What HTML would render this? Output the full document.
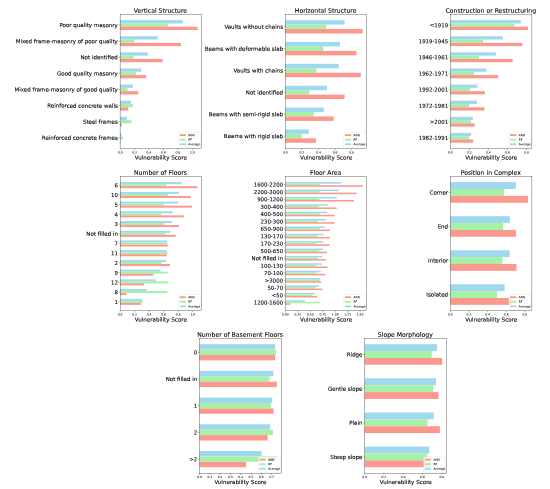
<!DOCTYPE html>
<html><head><meta charset="utf-8"><title>Vulnerability Scores</title>
<style>
html,body{margin:0;padding:0;background:#fff;}
body{width:550px;height:489px;overflow:hidden;}
svg{display:block;font-family:"DejaVu Sans","Liberation Sans",sans-serif;text-rendering:geometricPrecision;}
text{fill:#000;stroke:#000;stroke-width:0.1px;}
text.s{stroke-width:0.04px;}
</style></head><body>
<svg width="550" height="489" viewBox="0 0 550 489">
<rect x="0" y="0" width="550" height="489" fill="#fff"/>
<g>
<rect x="120.1" y="20.15" width="62.6" height="3.29" fill="#9FD8EF"/>
<rect x="120.1" y="23.44" width="47.8" height="3.29" fill="#A6F1A6"/>
<rect x="120.1" y="26.73" width="77.5" height="3.29" fill="#FB998E"/>
<rect x="120.1" y="36.26" width="37.6" height="3.29" fill="#9FD8EF"/>
<rect x="120.1" y="39.55" width="13.9" height="3.29" fill="#A6F1A6"/>
<rect x="120.1" y="42.84" width="60.9" height="3.29" fill="#FB998E"/>
<rect x="120.1" y="52.36" width="27.9" height="3.29" fill="#9FD8EF"/>
<rect x="120.1" y="55.65" width="13.6" height="3.29" fill="#A6F1A6"/>
<rect x="120.1" y="58.94" width="42.6" height="3.29" fill="#FB998E"/>
<rect x="120.1" y="68.47" width="21" height="3.29" fill="#9FD8EF"/>
<rect x="120.1" y="71.76" width="15.8" height="3.29" fill="#A6F1A6"/>
<rect x="120.1" y="75.05" width="26" height="3.29" fill="#FB998E"/>
<rect x="120.1" y="84.58" width="12.8" height="3.29" fill="#9FD8EF"/>
<rect x="120.1" y="87.87" width="7.5" height="3.29" fill="#A6F1A6"/>
<rect x="120.1" y="91.16" width="18.3" height="3.29" fill="#FB998E"/>
<rect x="120.1" y="100.68" width="10.7" height="3.29" fill="#9FD8EF"/>
<rect x="120.1" y="103.98" width="13" height="3.29" fill="#A6F1A6"/>
<rect x="120.1" y="107.27" width="8.2" height="3.29" fill="#FB998E"/>
<rect x="120.1" y="116.79" width="6.8" height="3.29" fill="#9FD8EF"/>
<rect x="120.1" y="120.08" width="11.4" height="3.29" fill="#A6F1A6"/>
<rect x="120.1" y="123.37" width="1.6" height="3.29" fill="#FB998E"/>
<rect x="120.1" y="132.9" width="1.3" height="3.29" fill="#9FD8EF"/>
<rect x="120.1" y="136.19" width="2.6" height="3.29" fill="#A6F1A6"/>
<rect x="120.1" y="139.48" width="0.4" height="3.29" fill="#FB998E"/>
<rect x="178.5" y="132.35" width="22.2" height="15.5" rx="0.8" fill="#fff" fill-opacity="0.8" stroke="#ccc" stroke-opacity="0.8" stroke-width="0.3"/>
<rect x="179.6" y="134.2" width="6.3" height="1.8" fill="#FB998E"/>
<text transform="translate(188.35,136.15) rotate(0.05)" font-size="2.9" class="s">ANN</text>
<rect x="179.6" y="138.8" width="6.3" height="1.8" fill="#A6F1A6"/>
<text transform="translate(188.35,140.75) rotate(0.05)" font-size="2.9" class="s">RF</text>
<rect x="179.6" y="143.4" width="6.3" height="1.8" fill="#9FD8EF"/>
<text transform="translate(188.35,145.35) rotate(0.05)" font-size="2.9" class="s">Average</text>
<rect x="120.1" y="14.45" width="81.4" height="134.2" fill="none" stroke="#000" stroke-width="0.3"/>
<line x1="118.6" y1="25.09" x2="120.1" y2="25.09" stroke="#000" stroke-width="0.3"/>
<text transform="translate(117.8,27.14) rotate(0.05)" font-size="5.5" text-anchor="end">Poor quality masonry</text>
<line x1="118.6" y1="41.19" x2="120.1" y2="41.19" stroke="#000" stroke-width="0.3"/>
<text transform="translate(117.8,43.24) rotate(0.05)" font-size="5.5" text-anchor="end">Mixed frame-masonry of poor quality</text>
<line x1="118.6" y1="57.3" x2="120.1" y2="57.3" stroke="#000" stroke-width="0.3"/>
<text transform="translate(117.8,59.35) rotate(0.05)" font-size="5.5" text-anchor="end">Not identified</text>
<line x1="118.6" y1="73.41" x2="120.1" y2="73.41" stroke="#000" stroke-width="0.3"/>
<text transform="translate(117.8,75.46) rotate(0.05)" font-size="5.5" text-anchor="end">Good quality masonry</text>
<line x1="118.6" y1="89.51" x2="120.1" y2="89.51" stroke="#000" stroke-width="0.3"/>
<text transform="translate(117.8,91.56) rotate(0.05)" font-size="5.5" text-anchor="end">Mixed frame-masonry of good quality</text>
<line x1="118.6" y1="105.62" x2="120.1" y2="105.62" stroke="#000" stroke-width="0.3"/>
<text transform="translate(117.8,107.67) rotate(0.05)" font-size="5.5" text-anchor="end">Reinforced concrete walls</text>
<line x1="118.6" y1="121.73" x2="120.1" y2="121.73" stroke="#000" stroke-width="0.3"/>
<text transform="translate(117.8,123.78) rotate(0.05)" font-size="5.5" text-anchor="end">Steel frames</text>
<line x1="118.6" y1="137.83" x2="120.1" y2="137.83" stroke="#000" stroke-width="0.3"/>
<text transform="translate(117.8,139.88) rotate(0.05)" font-size="5.5" text-anchor="end">Reinforced concrete frames</text>
<line x1="120.2" y1="148.65" x2="120.2" y2="150.35" stroke="#000" stroke-width="0.3"/>
<text transform="translate(120.2,153.5) rotate(0.05)" font-size="3.0" text-anchor="middle" class="s">0.0</text>
<line x1="134.6" y1="148.65" x2="134.6" y2="150.35" stroke="#000" stroke-width="0.3"/>
<text transform="translate(134.6,153.5) rotate(0.05)" font-size="3.0" text-anchor="middle" class="s">0.2</text>
<line x1="149" y1="148.65" x2="149" y2="150.35" stroke="#000" stroke-width="0.3"/>
<text transform="translate(149,153.5) rotate(0.05)" font-size="3.0" text-anchor="middle" class="s">0.4</text>
<line x1="163.5" y1="148.65" x2="163.5" y2="150.35" stroke="#000" stroke-width="0.3"/>
<text transform="translate(163.5,153.5) rotate(0.05)" font-size="3.0" text-anchor="middle" class="s">0.6</text>
<line x1="177.9" y1="148.65" x2="177.9" y2="150.35" stroke="#000" stroke-width="0.3"/>
<text transform="translate(177.9,153.5) rotate(0.05)" font-size="3.0" text-anchor="middle" class="s">0.8</text>
<line x1="192.4" y1="148.65" x2="192.4" y2="150.35" stroke="#000" stroke-width="0.3"/>
<text transform="translate(192.4,153.5) rotate(0.05)" font-size="3.0" text-anchor="middle" class="s">1.0</text>
<text transform="translate(160.8,159.45) rotate(0.05)" font-size="5.55" text-anchor="middle">Vulnerability Score</text>
<text transform="translate(160.4,12.8) rotate(0.05)" font-size="6.13" text-anchor="middle">Vertical Structure</text>
</g>
<g>
<rect x="285.4" y="20.15" width="59.2" height="4.44" fill="#9FD8EF"/>
<rect x="285.4" y="24.59" width="40.9" height="4.44" fill="#A6F1A6"/>
<rect x="285.4" y="29.02" width="77.3" height="4.44" fill="#FB998E"/>
<rect x="285.4" y="42.01" width="54.5" height="4.44" fill="#9FD8EF"/>
<rect x="285.4" y="46.45" width="37.8" height="4.44" fill="#A6F1A6"/>
<rect x="285.4" y="50.89" width="71.1" height="4.44" fill="#FB998E"/>
<rect x="285.4" y="63.87" width="53.3" height="4.44" fill="#9FD8EF"/>
<rect x="285.4" y="68.31" width="31" height="4.44" fill="#A6F1A6"/>
<rect x="285.4" y="72.75" width="75.4" height="4.44" fill="#FB998E"/>
<rect x="285.4" y="85.74" width="41.7" height="4.44" fill="#9FD8EF"/>
<rect x="285.4" y="90.17" width="23.8" height="4.44" fill="#A6F1A6"/>
<rect x="285.4" y="94.61" width="59.2" height="4.44" fill="#FB998E"/>
<rect x="285.4" y="107.6" width="38.4" height="4.44" fill="#9FD8EF"/>
<rect x="285.4" y="112.03" width="28.5" height="4.44" fill="#A6F1A6"/>
<rect x="285.4" y="116.47" width="48.3" height="4.44" fill="#FB998E"/>
<rect x="285.4" y="129.46" width="23.4" height="4.44" fill="#9FD8EF"/>
<rect x="285.4" y="133.9" width="16.3" height="4.44" fill="#A6F1A6"/>
<rect x="285.4" y="138.33" width="30.6" height="4.44" fill="#FB998E"/>
<rect x="343.7" y="132.35" width="22.2" height="15.5" rx="0.8" fill="#fff" fill-opacity="0.8" stroke="#ccc" stroke-opacity="0.8" stroke-width="0.3"/>
<rect x="344.8" y="134.2" width="6.3" height="1.8" fill="#FB998E"/>
<text transform="translate(353.55,136.15) rotate(0.05)" font-size="2.9" class="s">ANN</text>
<rect x="344.8" y="138.8" width="6.3" height="1.8" fill="#A6F1A6"/>
<text transform="translate(353.55,140.75) rotate(0.05)" font-size="2.9" class="s">RF</text>
<rect x="344.8" y="143.4" width="6.3" height="1.8" fill="#9FD8EF"/>
<text transform="translate(353.55,145.35) rotate(0.05)" font-size="2.9" class="s">Average</text>
<rect x="285.4" y="14.45" width="81.3" height="134.2" fill="none" stroke="#000" stroke-width="0.3"/>
<line x1="283.9" y1="26.81" x2="285.4" y2="26.81" stroke="#000" stroke-width="0.3"/>
<text transform="translate(283.1,28.86) rotate(0.05)" font-size="5.5" text-anchor="end">Vaults without chains</text>
<line x1="283.9" y1="48.67" x2="285.4" y2="48.67" stroke="#000" stroke-width="0.3"/>
<text transform="translate(283.1,50.72) rotate(0.05)" font-size="5.5" text-anchor="end">Beams with deformable slab</text>
<line x1="283.9" y1="70.53" x2="285.4" y2="70.53" stroke="#000" stroke-width="0.3"/>
<text transform="translate(283.1,72.58) rotate(0.05)" font-size="5.5" text-anchor="end">Vaults with chains</text>
<line x1="283.9" y1="92.39" x2="285.4" y2="92.39" stroke="#000" stroke-width="0.3"/>
<text transform="translate(283.1,94.44) rotate(0.05)" font-size="5.5" text-anchor="end">Not identified</text>
<line x1="283.9" y1="114.25" x2="285.4" y2="114.25" stroke="#000" stroke-width="0.3"/>
<text transform="translate(283.1,116.3) rotate(0.05)" font-size="5.5" text-anchor="end">Beams with semi-rigid slab</text>
<line x1="283.9" y1="136.11" x2="285.4" y2="136.11" stroke="#000" stroke-width="0.3"/>
<text transform="translate(283.1,138.16) rotate(0.05)" font-size="5.5" text-anchor="end">Beams with rigid slab</text>
<line x1="285.4" y1="148.65" x2="285.4" y2="150.35" stroke="#000" stroke-width="0.3"/>
<text transform="translate(285.4,153.5) rotate(0.05)" font-size="3.0" text-anchor="middle" class="s">0.0</text>
<line x1="301.9" y1="148.65" x2="301.9" y2="150.35" stroke="#000" stroke-width="0.3"/>
<text transform="translate(301.9,153.5) rotate(0.05)" font-size="3.0" text-anchor="middle" class="s">0.2</text>
<line x1="318.5" y1="148.65" x2="318.5" y2="150.35" stroke="#000" stroke-width="0.3"/>
<text transform="translate(318.5,153.5) rotate(0.05)" font-size="3.0" text-anchor="middle" class="s">0.4</text>
<line x1="335.1" y1="148.65" x2="335.1" y2="150.35" stroke="#000" stroke-width="0.3"/>
<text transform="translate(335.1,153.5) rotate(0.05)" font-size="3.0" text-anchor="middle" class="s">0.6</text>
<line x1="351.7" y1="148.65" x2="351.7" y2="150.35" stroke="#000" stroke-width="0.3"/>
<text transform="translate(351.7,153.5) rotate(0.05)" font-size="3.0" text-anchor="middle" class="s">0.8</text>
<text transform="translate(326.05,159.45) rotate(0.05)" font-size="5.55" text-anchor="middle">Vulnerability Score</text>
<text transform="translate(325.65,12.8) rotate(0.05)" font-size="6.13" text-anchor="middle">Horizontal Structure</text>
</g>
<g>
<rect x="450.4" y="20.15" width="70.5" height="3.29" fill="#9FD8EF"/>
<rect x="450.4" y="23.44" width="64.1" height="3.29" fill="#A6F1A6"/>
<rect x="450.4" y="26.73" width="77.6" height="3.29" fill="#FB998E"/>
<rect x="450.4" y="36.26" width="52.5" height="3.29" fill="#9FD8EF"/>
<rect x="450.4" y="39.55" width="32.7" height="3.29" fill="#A6F1A6"/>
<rect x="450.4" y="42.84" width="72" height="3.29" fill="#FB998E"/>
<rect x="450.4" y="52.36" width="45.4" height="3.29" fill="#9FD8EF"/>
<rect x="450.4" y="55.65" width="28.5" height="3.29" fill="#A6F1A6"/>
<rect x="450.4" y="58.94" width="62.3" height="3.29" fill="#FB998E"/>
<rect x="450.4" y="68.47" width="36" height="3.29" fill="#9FD8EF"/>
<rect x="450.4" y="71.76" width="23.6" height="3.29" fill="#A6F1A6"/>
<rect x="450.4" y="75.05" width="47.8" height="3.29" fill="#FB998E"/>
<rect x="450.4" y="84.58" width="27.2" height="3.29" fill="#9FD8EF"/>
<rect x="450.4" y="87.87" width="19.6" height="3.29" fill="#A6F1A6"/>
<rect x="450.4" y="91.16" width="34.5" height="3.29" fill="#FB998E"/>
<rect x="450.4" y="100.68" width="26.5" height="3.29" fill="#9FD8EF"/>
<rect x="450.4" y="103.98" width="18.7" height="3.29" fill="#A6F1A6"/>
<rect x="450.4" y="107.27" width="34.1" height="3.29" fill="#FB998E"/>
<rect x="450.4" y="116.79" width="22.5" height="3.29" fill="#9FD8EF"/>
<rect x="450.4" y="120.08" width="20.5" height="3.29" fill="#A6F1A6"/>
<rect x="450.4" y="123.37" width="24.3" height="3.29" fill="#FB998E"/>
<rect x="450.4" y="132.9" width="20.7" height="3.29" fill="#9FD8EF"/>
<rect x="450.4" y="136.19" width="18.7" height="3.29" fill="#A6F1A6"/>
<rect x="450.4" y="139.48" width="22.7" height="3.29" fill="#FB998E"/>
<rect x="508.9" y="132.35" width="22.2" height="15.5" rx="0.8" fill="#fff" fill-opacity="0.8" stroke="#ccc" stroke-opacity="0.8" stroke-width="0.3"/>
<rect x="510" y="134.2" width="6.3" height="1.8" fill="#FB998E"/>
<text transform="translate(518.75,136.15) rotate(0.05)" font-size="2.9" class="s">ANN</text>
<rect x="510" y="138.8" width="6.3" height="1.8" fill="#A6F1A6"/>
<text transform="translate(518.75,140.75) rotate(0.05)" font-size="2.9" class="s">RF</text>
<rect x="510" y="143.4" width="6.3" height="1.8" fill="#9FD8EF"/>
<text transform="translate(518.75,145.35) rotate(0.05)" font-size="2.9" class="s">Average</text>
<rect x="450.4" y="14.45" width="81.5" height="134.2" fill="none" stroke="#000" stroke-width="0.3"/>
<line x1="448.9" y1="25.09" x2="450.4" y2="25.09" stroke="#000" stroke-width="0.3"/>
<text transform="translate(448.1,27.14) rotate(0.05)" font-size="5.4" text-anchor="end">&lt;1919</text>
<line x1="448.9" y1="41.19" x2="450.4" y2="41.19" stroke="#000" stroke-width="0.3"/>
<text transform="translate(448.1,43.24) rotate(0.05)" font-size="5.4" text-anchor="end">1919-1945</text>
<line x1="448.9" y1="57.3" x2="450.4" y2="57.3" stroke="#000" stroke-width="0.3"/>
<text transform="translate(448.1,59.35) rotate(0.05)" font-size="5.4" text-anchor="end">1946-1961</text>
<line x1="448.9" y1="73.41" x2="450.4" y2="73.41" stroke="#000" stroke-width="0.3"/>
<text transform="translate(448.1,75.46) rotate(0.05)" font-size="5.4" text-anchor="end">1962-1971</text>
<line x1="448.9" y1="89.51" x2="450.4" y2="89.51" stroke="#000" stroke-width="0.3"/>
<text transform="translate(448.1,91.56) rotate(0.05)" font-size="5.4" text-anchor="end">1992-2001</text>
<line x1="448.9" y1="105.62" x2="450.4" y2="105.62" stroke="#000" stroke-width="0.3"/>
<text transform="translate(448.1,107.67) rotate(0.05)" font-size="5.4" text-anchor="end">1972-1981</text>
<line x1="448.9" y1="121.73" x2="450.4" y2="121.73" stroke="#000" stroke-width="0.3"/>
<text transform="translate(448.1,123.78) rotate(0.05)" font-size="5.4" text-anchor="end">&gt;2001</text>
<line x1="448.9" y1="137.83" x2="450.4" y2="137.83" stroke="#000" stroke-width="0.3"/>
<text transform="translate(448.1,139.88) rotate(0.05)" font-size="5.4" text-anchor="end">1982-1991</text>
<line x1="450.4" y1="148.65" x2="450.4" y2="150.35" stroke="#000" stroke-width="0.3"/>
<text transform="translate(450.4,153.5) rotate(0.05)" font-size="3.0" text-anchor="middle" class="s">0.0</text>
<line x1="469.4" y1="148.65" x2="469.4" y2="150.35" stroke="#000" stroke-width="0.3"/>
<text transform="translate(469.4,153.5) rotate(0.05)" font-size="3.0" text-anchor="middle" class="s">0.2</text>
<line x1="488.4" y1="148.65" x2="488.4" y2="150.35" stroke="#000" stroke-width="0.3"/>
<text transform="translate(488.4,153.5) rotate(0.05)" font-size="3.0" text-anchor="middle" class="s">0.4</text>
<line x1="507.5" y1="148.65" x2="507.5" y2="150.35" stroke="#000" stroke-width="0.3"/>
<text transform="translate(507.5,153.5) rotate(0.05)" font-size="3.0" text-anchor="middle" class="s">0.6</text>
<line x1="526.5" y1="148.65" x2="526.5" y2="150.35" stroke="#000" stroke-width="0.3"/>
<text transform="translate(526.5,153.5) rotate(0.05)" font-size="3.0" text-anchor="middle" class="s">0.8</text>
<text transform="translate(491.15,159.45) rotate(0.05)" font-size="5.55" text-anchor="middle">Vulnerability Score</text>
<text transform="translate(490.75,12.8) rotate(0.05)" font-size="6.13" text-anchor="middle">Construction or Restructuring</text>
</g>
<g>
<rect x="120.2" y="182.15" width="61.6" height="2.02" fill="#9FD8EF"/>
<rect x="120.2" y="184.17" width="45.8" height="2.02" fill="#A6F1A6"/>
<rect x="120.2" y="186.19" width="77.4" height="2.02" fill="#FB998E"/>
<rect x="120.2" y="191.88" width="58.9" height="2.02" fill="#9FD8EF"/>
<rect x="120.2" y="193.89" width="47.6" height="2.02" fill="#A6F1A6"/>
<rect x="120.2" y="195.91" width="70.7" height="2.02" fill="#FB998E"/>
<rect x="120.2" y="201.6" width="57.8" height="2.02" fill="#9FD8EF"/>
<rect x="120.2" y="203.62" width="43.8" height="2.02" fill="#A6F1A6"/>
<rect x="120.2" y="205.63" width="71.6" height="2.02" fill="#FB998E"/>
<rect x="120.2" y="211.32" width="52.3" height="2.02" fill="#9FD8EF"/>
<rect x="120.2" y="213.34" width="41.1" height="2.02" fill="#A6F1A6"/>
<rect x="120.2" y="215.35" width="63.6" height="2.02" fill="#FB998E"/>
<rect x="120.2" y="221.04" width="51.6" height="2.02" fill="#9FD8EF"/>
<rect x="120.2" y="223.06" width="44.3" height="2.02" fill="#A6F1A6"/>
<rect x="120.2" y="225.08" width="58.9" height="2.02" fill="#FB998E"/>
<rect x="120.2" y="230.76" width="50.3" height="2.02" fill="#9FD8EF"/>
<rect x="120.2" y="232.78" width="45.4" height="2.02" fill="#A6F1A6"/>
<rect x="120.2" y="234.8" width="55.4" height="2.02" fill="#FB998E"/>
<rect x="120.2" y="240.48" width="47.3" height="2.02" fill="#9FD8EF"/>
<rect x="120.2" y="242.5" width="46.9" height="2.02" fill="#A6F1A6"/>
<rect x="120.2" y="244.52" width="47.8" height="2.02" fill="#FB998E"/>
<rect x="120.2" y="250.2" width="46.5" height="2.02" fill="#9FD8EF"/>
<rect x="120.2" y="252.22" width="47.4" height="2.02" fill="#A6F1A6"/>
<rect x="120.2" y="254.24" width="46.5" height="2.02" fill="#FB998E"/>
<rect x="120.2" y="259.93" width="45.8" height="2.02" fill="#9FD8EF"/>
<rect x="120.2" y="261.94" width="41.4" height="2.02" fill="#A6F1A6"/>
<rect x="120.2" y="263.96" width="49.8" height="2.02" fill="#FB998E"/>
<rect x="120.2" y="269.65" width="40.3" height="2.02" fill="#9FD8EF"/>
<rect x="120.2" y="271.67" width="47.4" height="2.02" fill="#A6F1A6"/>
<rect x="120.2" y="273.68" width="33.1" height="2.02" fill="#FB998E"/>
<rect x="120.2" y="279.37" width="35.6" height="2.02" fill="#9FD8EF"/>
<rect x="120.2" y="281.39" width="47.6" height="2.02" fill="#A6F1A6"/>
<rect x="120.2" y="283.4" width="23.8" height="2.02" fill="#FB998E"/>
<rect x="120.2" y="289.09" width="26.5" height="2.02" fill="#9FD8EF"/>
<rect x="120.2" y="291.11" width="47.1" height="2.02" fill="#A6F1A6"/>
<rect x="120.2" y="293.13" width="6.5" height="2.02" fill="#FB998E"/>
<rect x="120.2" y="298.81" width="21.8" height="2.02" fill="#9FD8EF"/>
<rect x="120.2" y="300.83" width="22.7" height="2.02" fill="#A6F1A6"/>
<rect x="120.2" y="302.85" width="20.9" height="2.02" fill="#FB998E"/>
<rect x="178.5" y="294.45" width="22.2" height="15.5" rx="0.8" fill="#fff" fill-opacity="0.8" stroke="#ccc" stroke-opacity="0.8" stroke-width="0.3"/>
<rect x="179.6" y="296.3" width="6.3" height="1.8" fill="#FB998E"/>
<text transform="translate(188.35,298.25) rotate(0.05)" font-size="2.9" class="s">ANN</text>
<rect x="179.6" y="300.9" width="6.3" height="1.8" fill="#A6F1A6"/>
<text transform="translate(188.35,302.85) rotate(0.05)" font-size="2.9" class="s">RF</text>
<rect x="179.6" y="305.5" width="6.3" height="1.8" fill="#9FD8EF"/>
<text transform="translate(188.35,307.45) rotate(0.05)" font-size="2.9" class="s">Average</text>
<rect x="120.2" y="176.45" width="81.3" height="134.3" fill="none" stroke="#000" stroke-width="0.3"/>
<line x1="118.7" y1="185.18" x2="120.2" y2="185.18" stroke="#000" stroke-width="0.3"/>
<text transform="translate(117.9,187.23) rotate(0.05)" font-size="5.4" text-anchor="end">6</text>
<line x1="118.7" y1="194.9" x2="120.2" y2="194.9" stroke="#000" stroke-width="0.3"/>
<text transform="translate(117.9,196.95) rotate(0.05)" font-size="5.4" text-anchor="end">10</text>
<line x1="118.7" y1="204.62" x2="120.2" y2="204.62" stroke="#000" stroke-width="0.3"/>
<text transform="translate(117.9,206.67) rotate(0.05)" font-size="5.4" text-anchor="end">5</text>
<line x1="118.7" y1="214.35" x2="120.2" y2="214.35" stroke="#000" stroke-width="0.3"/>
<text transform="translate(117.9,216.4) rotate(0.05)" font-size="5.4" text-anchor="end">4</text>
<line x1="118.7" y1="224.07" x2="120.2" y2="224.07" stroke="#000" stroke-width="0.3"/>
<text transform="translate(117.9,226.12) rotate(0.05)" font-size="5.4" text-anchor="end">3</text>
<line x1="118.7" y1="233.79" x2="120.2" y2="233.79" stroke="#000" stroke-width="0.3"/>
<text transform="translate(117.9,235.84) rotate(0.05)" font-size="5.5" text-anchor="end">Not filled in</text>
<line x1="118.7" y1="243.51" x2="120.2" y2="243.51" stroke="#000" stroke-width="0.3"/>
<text transform="translate(117.9,245.56) rotate(0.05)" font-size="5.4" text-anchor="end">7</text>
<line x1="118.7" y1="253.23" x2="120.2" y2="253.23" stroke="#000" stroke-width="0.3"/>
<text transform="translate(117.9,255.28) rotate(0.05)" font-size="5.4" text-anchor="end">11</text>
<line x1="118.7" y1="262.95" x2="120.2" y2="262.95" stroke="#000" stroke-width="0.3"/>
<text transform="translate(117.9,265) rotate(0.05)" font-size="5.4" text-anchor="end">2</text>
<line x1="118.7" y1="272.67" x2="120.2" y2="272.67" stroke="#000" stroke-width="0.3"/>
<text transform="translate(117.9,274.72) rotate(0.05)" font-size="5.4" text-anchor="end">9</text>
<line x1="118.7" y1="282.4" x2="120.2" y2="282.4" stroke="#000" stroke-width="0.3"/>
<text transform="translate(117.9,284.45) rotate(0.05)" font-size="5.4" text-anchor="end">12</text>
<line x1="118.7" y1="292.12" x2="120.2" y2="292.12" stroke="#000" stroke-width="0.3"/>
<text transform="translate(117.9,294.17) rotate(0.05)" font-size="5.4" text-anchor="end">8</text>
<line x1="118.7" y1="301.84" x2="120.2" y2="301.84" stroke="#000" stroke-width="0.3"/>
<text transform="translate(117.9,303.89) rotate(0.05)" font-size="5.4" text-anchor="end">1</text>
<line x1="120.1" y1="310.75" x2="120.1" y2="312.45" stroke="#000" stroke-width="0.3"/>
<text transform="translate(120.1,315.6) rotate(0.05)" font-size="3.0" text-anchor="middle" class="s">0.0</text>
<line x1="134.6" y1="310.75" x2="134.6" y2="312.45" stroke="#000" stroke-width="0.3"/>
<text transform="translate(134.6,315.6) rotate(0.05)" font-size="3.0" text-anchor="middle" class="s">0.2</text>
<line x1="149.1" y1="310.75" x2="149.1" y2="312.45" stroke="#000" stroke-width="0.3"/>
<text transform="translate(149.1,315.6) rotate(0.05)" font-size="3.0" text-anchor="middle" class="s">0.4</text>
<line x1="163.6" y1="310.75" x2="163.6" y2="312.45" stroke="#000" stroke-width="0.3"/>
<text transform="translate(163.6,315.6) rotate(0.05)" font-size="3.0" text-anchor="middle" class="s">0.6</text>
<line x1="178.2" y1="310.75" x2="178.2" y2="312.45" stroke="#000" stroke-width="0.3"/>
<text transform="translate(178.2,315.6) rotate(0.05)" font-size="3.0" text-anchor="middle" class="s">0.8</text>
<line x1="192.8" y1="310.75" x2="192.8" y2="312.45" stroke="#000" stroke-width="0.3"/>
<text transform="translate(192.8,315.6) rotate(0.05)" font-size="3.0" text-anchor="middle" class="s">1.0</text>
<text transform="translate(160.85,321.55) rotate(0.05)" font-size="5.55" text-anchor="middle">Vulnerability Score</text>
<text transform="translate(160.45,174.8) rotate(0.05)" font-size="6.13" text-anchor="middle">Number of Floors</text>
</g>
<g>
<rect x="285.4" y="182.15" width="56" height="1.55" fill="#9FD8EF"/>
<rect x="285.4" y="183.71" width="34.4" height="1.55" fill="#A6F1A6"/>
<rect x="285.4" y="185.26" width="77.6" height="1.55" fill="#FB998E"/>
<rect x="285.4" y="189.53" width="53.2" height="1.55" fill="#9FD8EF"/>
<rect x="285.4" y="191.08" width="34.4" height="1.55" fill="#A6F1A6"/>
<rect x="285.4" y="192.64" width="71.4" height="1.55" fill="#FB998E"/>
<rect x="285.4" y="196.91" width="51.3" height="1.55" fill="#9FD8EF"/>
<rect x="285.4" y="198.46" width="34" height="1.55" fill="#A6F1A6"/>
<rect x="285.4" y="200.01" width="68.5" height="1.55" fill="#FB998E"/>
<rect x="285.4" y="204.29" width="42.3" height="1.55" fill="#9FD8EF"/>
<rect x="285.4" y="205.84" width="33.1" height="1.55" fill="#A6F1A6"/>
<rect x="285.4" y="207.39" width="51.3" height="1.55" fill="#FB998E"/>
<rect x="285.4" y="211.67" width="41.8" height="1.55" fill="#9FD8EF"/>
<rect x="285.4" y="213.22" width="34" height="1.55" fill="#A6F1A6"/>
<rect x="285.4" y="214.77" width="49.4" height="1.55" fill="#FB998E"/>
<rect x="285.4" y="219.05" width="40.5" height="1.55" fill="#9FD8EF"/>
<rect x="285.4" y="220.6" width="32.1" height="1.55" fill="#A6F1A6"/>
<rect x="285.4" y="222.15" width="48.9" height="1.55" fill="#FB998E"/>
<rect x="285.4" y="226.43" width="39.4" height="1.55" fill="#9FD8EF"/>
<rect x="285.4" y="227.98" width="34.1" height="1.55" fill="#A6F1A6"/>
<rect x="285.4" y="229.53" width="44.5" height="1.55" fill="#FB998E"/>
<rect x="285.4" y="233.8" width="38.1" height="1.55" fill="#9FD8EF"/>
<rect x="285.4" y="235.36" width="31.8" height="1.55" fill="#A6F1A6"/>
<rect x="285.4" y="236.91" width="44.5" height="1.55" fill="#FB998E"/>
<rect x="285.4" y="241.18" width="37.8" height="1.55" fill="#9FD8EF"/>
<rect x="285.4" y="242.73" width="31.2" height="1.55" fill="#A6F1A6"/>
<rect x="285.4" y="244.29" width="44.1" height="1.55" fill="#FB998E"/>
<rect x="285.4" y="248.56" width="37.6" height="1.55" fill="#9FD8EF"/>
<rect x="285.4" y="250.11" width="33.6" height="1.55" fill="#A6F1A6"/>
<rect x="285.4" y="251.66" width="41.6" height="1.55" fill="#FB998E"/>
<rect x="285.4" y="255.94" width="36.7" height="1.55" fill="#9FD8EF"/>
<rect x="285.4" y="257.49" width="32.5" height="1.55" fill="#A6F1A6"/>
<rect x="285.4" y="259.04" width="40.7" height="1.55" fill="#FB998E"/>
<rect x="285.4" y="263.32" width="36.5" height="1.55" fill="#9FD8EF"/>
<rect x="285.4" y="264.87" width="30.9" height="1.55" fill="#A6F1A6"/>
<rect x="285.4" y="266.42" width="42" height="1.55" fill="#FB998E"/>
<rect x="285.4" y="270.7" width="35.4" height="1.55" fill="#9FD8EF"/>
<rect x="285.4" y="272.25" width="30.9" height="1.55" fill="#A6F1A6"/>
<rect x="285.4" y="273.8" width="40" height="1.55" fill="#FB998E"/>
<rect x="285.4" y="278.08" width="34.9" height="1.55" fill="#9FD8EF"/>
<rect x="285.4" y="279.63" width="34.3" height="1.55" fill="#A6F1A6"/>
<rect x="285.4" y="281.18" width="35.8" height="1.55" fill="#FB998E"/>
<rect x="285.4" y="285.46" width="33.6" height="1.55" fill="#9FD8EF"/>
<rect x="285.4" y="287.01" width="30.3" height="1.55" fill="#A6F1A6"/>
<rect x="285.4" y="288.56" width="37.2" height="1.55" fill="#FB998E"/>
<rect x="285.4" y="292.83" width="29.4" height="1.55" fill="#9FD8EF"/>
<rect x="285.4" y="294.38" width="27.2" height="1.55" fill="#A6F1A6"/>
<rect x="285.4" y="295.94" width="31.6" height="1.55" fill="#FB998E"/>
<rect x="285.4" y="300.21" width="19.6" height="1.55" fill="#9FD8EF"/>
<rect x="285.4" y="301.76" width="34.5" height="1.55" fill="#A6F1A6"/>
<rect x="285.4" y="303.31" width="4.9" height="1.55" fill="#FB998E"/>
<rect x="343.7" y="294.45" width="22.2" height="15.5" rx="0.8" fill="#fff" fill-opacity="0.8" stroke="#ccc" stroke-opacity="0.8" stroke-width="0.3"/>
<rect x="344.8" y="296.3" width="6.3" height="1.8" fill="#FB998E"/>
<text transform="translate(353.55,298.25) rotate(0.05)" font-size="2.9" class="s">ANN</text>
<rect x="344.8" y="300.9" width="6.3" height="1.8" fill="#A6F1A6"/>
<text transform="translate(353.55,302.85) rotate(0.05)" font-size="2.9" class="s">RF</text>
<rect x="344.8" y="305.5" width="6.3" height="1.8" fill="#9FD8EF"/>
<text transform="translate(353.55,307.45) rotate(0.05)" font-size="2.9" class="s">Average</text>
<rect x="285.4" y="176.45" width="81.3" height="134.3" fill="none" stroke="#000" stroke-width="0.3"/>
<line x1="283.9" y1="184.48" x2="285.4" y2="184.48" stroke="#000" stroke-width="0.3"/>
<text transform="translate(283.1,186.53) rotate(0.05)" font-size="5.4" text-anchor="end">1600-2200</text>
<line x1="283.9" y1="191.86" x2="285.4" y2="191.86" stroke="#000" stroke-width="0.3"/>
<text transform="translate(283.1,193.91) rotate(0.05)" font-size="5.4" text-anchor="end">2200-3000</text>
<line x1="283.9" y1="199.24" x2="285.4" y2="199.24" stroke="#000" stroke-width="0.3"/>
<text transform="translate(283.1,201.29) rotate(0.05)" font-size="5.4" text-anchor="end">900-1200</text>
<line x1="283.9" y1="206.62" x2="285.4" y2="206.62" stroke="#000" stroke-width="0.3"/>
<text transform="translate(283.1,208.67) rotate(0.05)" font-size="5.4" text-anchor="end">300-400</text>
<line x1="283.9" y1="214" x2="285.4" y2="214" stroke="#000" stroke-width="0.3"/>
<text transform="translate(283.1,216.05) rotate(0.05)" font-size="5.4" text-anchor="end">400-500</text>
<line x1="283.9" y1="221.37" x2="285.4" y2="221.37" stroke="#000" stroke-width="0.3"/>
<text transform="translate(283.1,223.42) rotate(0.05)" font-size="5.4" text-anchor="end">230-300</text>
<line x1="283.9" y1="228.75" x2="285.4" y2="228.75" stroke="#000" stroke-width="0.3"/>
<text transform="translate(283.1,230.8) rotate(0.05)" font-size="5.4" text-anchor="end">650-900</text>
<line x1="283.9" y1="236.13" x2="285.4" y2="236.13" stroke="#000" stroke-width="0.3"/>
<text transform="translate(283.1,238.18) rotate(0.05)" font-size="5.4" text-anchor="end">130-170</text>
<line x1="283.9" y1="243.51" x2="285.4" y2="243.51" stroke="#000" stroke-width="0.3"/>
<text transform="translate(283.1,245.56) rotate(0.05)" font-size="5.4" text-anchor="end">170-230</text>
<line x1="283.9" y1="250.89" x2="285.4" y2="250.89" stroke="#000" stroke-width="0.3"/>
<text transform="translate(283.1,252.94) rotate(0.05)" font-size="5.4" text-anchor="end">500-650</text>
<line x1="283.9" y1="258.27" x2="285.4" y2="258.27" stroke="#000" stroke-width="0.3"/>
<text transform="translate(283.1,260.32) rotate(0.05)" font-size="5.5" text-anchor="end">Not filled in</text>
<line x1="283.9" y1="265.65" x2="285.4" y2="265.65" stroke="#000" stroke-width="0.3"/>
<text transform="translate(283.1,267.7) rotate(0.05)" font-size="5.4" text-anchor="end">100-130</text>
<line x1="283.9" y1="273.02" x2="285.4" y2="273.02" stroke="#000" stroke-width="0.3"/>
<text transform="translate(283.1,275.07) rotate(0.05)" font-size="5.4" text-anchor="end">70-100</text>
<line x1="283.9" y1="280.4" x2="285.4" y2="280.4" stroke="#000" stroke-width="0.3"/>
<text transform="translate(283.1,282.45) rotate(0.05)" font-size="5.4" text-anchor="end">&gt;3000</text>
<line x1="283.9" y1="287.78" x2="285.4" y2="287.78" stroke="#000" stroke-width="0.3"/>
<text transform="translate(283.1,289.83) rotate(0.05)" font-size="5.4" text-anchor="end">50-70</text>
<line x1="283.9" y1="295.16" x2="285.4" y2="295.16" stroke="#000" stroke-width="0.3"/>
<text transform="translate(283.1,297.21) rotate(0.05)" font-size="5.4" text-anchor="end">&lt;50</text>
<line x1="283.9" y1="302.54" x2="285.4" y2="302.54" stroke="#000" stroke-width="0.3"/>
<text transform="translate(283.1,304.59) rotate(0.05)" font-size="5.4" text-anchor="end">1200-1600</text>
<line x1="285.4" y1="310.75" x2="285.4" y2="312.45" stroke="#000" stroke-width="0.3"/>
<text transform="translate(285.4,315.6) rotate(0.05)" font-size="3.0" text-anchor="middle" class="s">0.00</text>
<line x1="297.9" y1="310.75" x2="297.9" y2="312.45" stroke="#000" stroke-width="0.3"/>
<text transform="translate(297.9,315.6) rotate(0.05)" font-size="3.0" text-anchor="middle" class="s">0.25</text>
<line x1="310.3" y1="310.75" x2="310.3" y2="312.45" stroke="#000" stroke-width="0.3"/>
<text transform="translate(310.3,315.6) rotate(0.05)" font-size="3.0" text-anchor="middle" class="s">0.50</text>
<line x1="322.8" y1="310.75" x2="322.8" y2="312.45" stroke="#000" stroke-width="0.3"/>
<text transform="translate(322.8,315.6) rotate(0.05)" font-size="3.0" text-anchor="middle" class="s">0.75</text>
<line x1="335.2" y1="310.75" x2="335.2" y2="312.45" stroke="#000" stroke-width="0.3"/>
<text transform="translate(335.2,315.6) rotate(0.05)" font-size="3.0" text-anchor="middle" class="s">1.00</text>
<line x1="347.7" y1="310.75" x2="347.7" y2="312.45" stroke="#000" stroke-width="0.3"/>
<text transform="translate(347.7,315.6) rotate(0.05)" font-size="3.0" text-anchor="middle" class="s">1.25</text>
<line x1="360.1" y1="310.75" x2="360.1" y2="312.45" stroke="#000" stroke-width="0.3"/>
<text transform="translate(360.1,315.6) rotate(0.05)" font-size="3.0" text-anchor="middle" class="s">1.50</text>
<text transform="translate(326.05,321.55) rotate(0.05)" font-size="5.55" text-anchor="middle">Vulnerability Score</text>
<text transform="translate(325.65,174.8) rotate(0.05)" font-size="6.13" text-anchor="middle">Floor Area</text>
</g>
<g>
<rect x="450.4" y="182.15" width="65.4" height="6.86" fill="#9FD8EF"/>
<rect x="450.4" y="189.02" width="53.6" height="6.86" fill="#A6F1A6"/>
<rect x="450.4" y="195.88" width="77.6" height="6.86" fill="#FB998E"/>
<rect x="450.4" y="216.2" width="59.4" height="6.86" fill="#9FD8EF"/>
<rect x="450.4" y="223.06" width="52.7" height="6.86" fill="#A6F1A6"/>
<rect x="450.4" y="229.92" width="65.6" height="6.86" fill="#FB998E"/>
<rect x="450.4" y="250.24" width="59.1" height="6.86" fill="#9FD8EF"/>
<rect x="450.4" y="257.1" width="52" height="6.86" fill="#A6F1A6"/>
<rect x="450.4" y="263.96" width="66.1" height="6.86" fill="#FB998E"/>
<rect x="450.4" y="284.28" width="54.3" height="6.86" fill="#9FD8EF"/>
<rect x="450.4" y="291.14" width="46.7" height="6.86" fill="#A6F1A6"/>
<rect x="450.4" y="298" width="61.3" height="6.86" fill="#FB998E"/>
<rect x="508.9" y="294.45" width="22.2" height="15.5" rx="0.8" fill="#fff" fill-opacity="0.8" stroke="#ccc" stroke-opacity="0.8" stroke-width="0.3"/>
<rect x="510" y="296.3" width="6.3" height="1.8" fill="#FB998E"/>
<text transform="translate(518.75,298.25) rotate(0.05)" font-size="2.9" class="s">ANN</text>
<rect x="510" y="300.9" width="6.3" height="1.8" fill="#A6F1A6"/>
<text transform="translate(518.75,302.85) rotate(0.05)" font-size="2.9" class="s">RF</text>
<rect x="510" y="305.5" width="6.3" height="1.8" fill="#9FD8EF"/>
<text transform="translate(518.75,307.45) rotate(0.05)" font-size="2.9" class="s">Average</text>
<rect x="450.4" y="176.45" width="81.5" height="134.3" fill="none" stroke="#000" stroke-width="0.3"/>
<line x1="448.9" y1="192.45" x2="450.4" y2="192.45" stroke="#000" stroke-width="0.3"/>
<text transform="translate(448.1,194.5) rotate(0.05)" font-size="5.5" text-anchor="end">Corner</text>
<line x1="448.9" y1="226.49" x2="450.4" y2="226.49" stroke="#000" stroke-width="0.3"/>
<text transform="translate(448.1,228.54) rotate(0.05)" font-size="5.5" text-anchor="end">End</text>
<line x1="448.9" y1="260.53" x2="450.4" y2="260.53" stroke="#000" stroke-width="0.3"/>
<text transform="translate(448.1,262.58) rotate(0.05)" font-size="5.5" text-anchor="end">Interior</text>
<line x1="448.9" y1="294.57" x2="450.4" y2="294.57" stroke="#000" stroke-width="0.3"/>
<text transform="translate(448.1,296.62) rotate(0.05)" font-size="5.5" text-anchor="end">Isolated</text>
<line x1="450.4" y1="310.75" x2="450.4" y2="312.45" stroke="#000" stroke-width="0.3"/>
<text transform="translate(450.4,315.6) rotate(0.05)" font-size="3.0" text-anchor="middle" class="s">0.0</text>
<line x1="469" y1="310.75" x2="469" y2="312.45" stroke="#000" stroke-width="0.3"/>
<text transform="translate(469,315.6) rotate(0.05)" font-size="3.0" text-anchor="middle" class="s">0.2</text>
<line x1="487.6" y1="310.75" x2="487.6" y2="312.45" stroke="#000" stroke-width="0.3"/>
<text transform="translate(487.6,315.6) rotate(0.05)" font-size="3.0" text-anchor="middle" class="s">0.4</text>
<line x1="506.2" y1="310.75" x2="506.2" y2="312.45" stroke="#000" stroke-width="0.3"/>
<text transform="translate(506.2,315.6) rotate(0.05)" font-size="3.0" text-anchor="middle" class="s">0.6</text>
<line x1="524.9" y1="310.75" x2="524.9" y2="312.45" stroke="#000" stroke-width="0.3"/>
<text transform="translate(524.9,315.6) rotate(0.05)" font-size="3.0" text-anchor="middle" class="s">0.8</text>
<text transform="translate(491.15,321.55) rotate(0.05)" font-size="5.55" text-anchor="middle">Vulnerability Score</text>
<text transform="translate(490.75,174.8) rotate(0.05)" font-size="6.13" text-anchor="middle">Position in Complex</text>
</g>
<g>
<rect x="199.5" y="344.17" width="75.6" height="5.4" fill="#9FD8EF"/>
<rect x="199.5" y="349.58" width="76.5" height="5.4" fill="#A6F1A6"/>
<rect x="199.5" y="354.98" width="75.6" height="5.4" fill="#FB998E"/>
<rect x="199.5" y="370.89" width="73.8" height="5.4" fill="#9FD8EF"/>
<rect x="199.5" y="376.29" width="70.1" height="5.4" fill="#A6F1A6"/>
<rect x="199.5" y="381.7" width="77.4" height="5.4" fill="#FB998E"/>
<rect x="199.5" y="397.6" width="72.6" height="5.4" fill="#9FD8EF"/>
<rect x="199.5" y="403.01" width="71.3" height="5.4" fill="#A6F1A6"/>
<rect x="199.5" y="408.41" width="74.1" height="5.4" fill="#FB998E"/>
<rect x="199.5" y="424.32" width="70.5" height="5.4" fill="#9FD8EF"/>
<rect x="199.5" y="429.72" width="73.4" height="5.4" fill="#A6F1A6"/>
<rect x="199.5" y="435.13" width="68.1" height="5.4" fill="#FB998E"/>
<rect x="199.5" y="451.03" width="62.1" height="5.4" fill="#9FD8EF"/>
<rect x="199.5" y="456.44" width="77.6" height="5.4" fill="#A6F1A6"/>
<rect x="199.5" y="461.84" width="46.6" height="5.4" fill="#FB998E"/>
<rect x="258.3" y="456.85" width="22.2" height="15.5" rx="0.8" fill="#fff" fill-opacity="0.8" stroke="#ccc" stroke-opacity="0.8" stroke-width="0.3"/>
<rect x="259.4" y="458.7" width="6.3" height="1.8" fill="#FB998E"/>
<text transform="translate(268.15,460.65) rotate(0.05)" font-size="2.9" class="s">ANN</text>
<rect x="259.4" y="463.3" width="6.3" height="1.8" fill="#A6F1A6"/>
<text transform="translate(268.15,465.25) rotate(0.05)" font-size="2.9" class="s">RF</text>
<rect x="259.4" y="467.9" width="6.3" height="1.8" fill="#9FD8EF"/>
<text transform="translate(268.15,469.85) rotate(0.05)" font-size="2.9" class="s">Average</text>
<rect x="199.5" y="338.45" width="81.8" height="134.7" fill="none" stroke="#000" stroke-width="0.3"/>
<line x1="198" y1="352.28" x2="199.5" y2="352.28" stroke="#000" stroke-width="0.3"/>
<text transform="translate(197.2,354.33) rotate(0.05)" font-size="5.4" text-anchor="end">0</text>
<line x1="198" y1="378.99" x2="199.5" y2="378.99" stroke="#000" stroke-width="0.3"/>
<text transform="translate(197.2,381.04) rotate(0.05)" font-size="5.5" text-anchor="end">Not filled in</text>
<line x1="198" y1="405.71" x2="199.5" y2="405.71" stroke="#000" stroke-width="0.3"/>
<text transform="translate(197.2,407.76) rotate(0.05)" font-size="5.4" text-anchor="end">1</text>
<line x1="198" y1="432.43" x2="199.5" y2="432.43" stroke="#000" stroke-width="0.3"/>
<text transform="translate(197.2,434.48) rotate(0.05)" font-size="5.4" text-anchor="end">2</text>
<line x1="198" y1="459.14" x2="199.5" y2="459.14" stroke="#000" stroke-width="0.3"/>
<text transform="translate(197.2,461.19) rotate(0.05)" font-size="5.4" text-anchor="end">&gt;2</text>
<line x1="199.5" y1="473.15" x2="199.5" y2="474.85" stroke="#000" stroke-width="0.3"/>
<text transform="translate(199.5,478) rotate(0.05)" font-size="3.0" text-anchor="middle" class="s">0.0</text>
<line x1="209.8" y1="473.15" x2="209.8" y2="474.85" stroke="#000" stroke-width="0.3"/>
<text transform="translate(209.8,478) rotate(0.05)" font-size="3.0" text-anchor="middle" class="s">0.1</text>
<line x1="220.1" y1="473.15" x2="220.1" y2="474.85" stroke="#000" stroke-width="0.3"/>
<text transform="translate(220.1,478) rotate(0.05)" font-size="3.0" text-anchor="middle" class="s">0.2</text>
<line x1="230.4" y1="473.15" x2="230.4" y2="474.85" stroke="#000" stroke-width="0.3"/>
<text transform="translate(230.4,478) rotate(0.05)" font-size="3.0" text-anchor="middle" class="s">0.3</text>
<line x1="240.7" y1="473.15" x2="240.7" y2="474.85" stroke="#000" stroke-width="0.3"/>
<text transform="translate(240.7,478) rotate(0.05)" font-size="3.0" text-anchor="middle" class="s">0.4</text>
<line x1="251" y1="473.15" x2="251" y2="474.85" stroke="#000" stroke-width="0.3"/>
<text transform="translate(251,478) rotate(0.05)" font-size="3.0" text-anchor="middle" class="s">0.5</text>
<line x1="261.3" y1="473.15" x2="261.3" y2="474.85" stroke="#000" stroke-width="0.3"/>
<text transform="translate(261.3,478) rotate(0.05)" font-size="3.0" text-anchor="middle" class="s">0.6</text>
<line x1="271.6" y1="473.15" x2="271.6" y2="474.85" stroke="#000" stroke-width="0.3"/>
<text transform="translate(271.6,478) rotate(0.05)" font-size="3.0" text-anchor="middle" class="s">0.7</text>
<text transform="translate(240.4,483.95) rotate(0.05)" font-size="5.55" text-anchor="middle">Vulnerability Score</text>
<text transform="translate(240,336.8) rotate(0.05)" font-size="6.13" text-anchor="middle">Number of Basement Floors</text>
</g>
<g>
<rect x="364.8" y="344.17" width="72.2" height="6.88" fill="#9FD8EF"/>
<rect x="364.8" y="351.06" width="66.9" height="6.88" fill="#A6F1A6"/>
<rect x="364.8" y="357.94" width="77.5" height="6.88" fill="#FB998E"/>
<rect x="364.8" y="378.31" width="71.1" height="6.88" fill="#9FD8EF"/>
<rect x="364.8" y="385.2" width="68.4" height="6.88" fill="#A6F1A6"/>
<rect x="364.8" y="392.08" width="73.7" height="6.88" fill="#FB998E"/>
<rect x="364.8" y="412.46" width="68.9" height="6.88" fill="#9FD8EF"/>
<rect x="364.8" y="419.34" width="62.7" height="6.88" fill="#A6F1A6"/>
<rect x="364.8" y="426.22" width="75.1" height="6.88" fill="#FB998E"/>
<rect x="364.8" y="446.6" width="64.5" height="6.88" fill="#9FD8EF"/>
<rect x="364.8" y="453.48" width="62.5" height="6.88" fill="#A6F1A6"/>
<rect x="364.8" y="460.36" width="65.7" height="6.88" fill="#FB998E"/>
<rect x="423.6" y="456.85" width="22.2" height="15.5" rx="0.8" fill="#fff" fill-opacity="0.8" stroke="#ccc" stroke-opacity="0.8" stroke-width="0.3"/>
<rect x="424.7" y="458.7" width="6.3" height="1.8" fill="#FB998E"/>
<text transform="translate(433.45,460.65) rotate(0.05)" font-size="2.9" class="s">ANN</text>
<rect x="424.7" y="463.3" width="6.3" height="1.8" fill="#A6F1A6"/>
<text transform="translate(433.45,465.25) rotate(0.05)" font-size="2.9" class="s">RF</text>
<rect x="424.7" y="467.9" width="6.3" height="1.8" fill="#9FD8EF"/>
<text transform="translate(433.45,469.85) rotate(0.05)" font-size="2.9" class="s">Average</text>
<rect x="364.8" y="338.45" width="81.8" height="134.7" fill="none" stroke="#000" stroke-width="0.3"/>
<line x1="363.3" y1="354.5" x2="364.8" y2="354.5" stroke="#000" stroke-width="0.3"/>
<text transform="translate(362.5,356.55) rotate(0.05)" font-size="5.5" text-anchor="end">Ridge</text>
<line x1="363.3" y1="388.64" x2="364.8" y2="388.64" stroke="#000" stroke-width="0.3"/>
<text transform="translate(362.5,390.69) rotate(0.05)" font-size="5.5" text-anchor="end">Gentle slope</text>
<line x1="363.3" y1="422.78" x2="364.8" y2="422.78" stroke="#000" stroke-width="0.3"/>
<text transform="translate(362.5,424.83) rotate(0.05)" font-size="5.5" text-anchor="end">Plain</text>
<line x1="363.3" y1="456.92" x2="364.8" y2="456.92" stroke="#000" stroke-width="0.3"/>
<text transform="translate(362.5,458.97) rotate(0.05)" font-size="5.5" text-anchor="end">Steep slope</text>
<line x1="364.6" y1="473.15" x2="364.6" y2="474.85" stroke="#000" stroke-width="0.3"/>
<text transform="translate(364.6,478) rotate(0.05)" font-size="3.0" text-anchor="middle" class="s">0.0</text>
<line x1="383.9" y1="473.15" x2="383.9" y2="474.85" stroke="#000" stroke-width="0.3"/>
<text transform="translate(383.9,478) rotate(0.05)" font-size="3.0" text-anchor="middle" class="s">0.2</text>
<line x1="403.2" y1="473.15" x2="403.2" y2="474.85" stroke="#000" stroke-width="0.3"/>
<text transform="translate(403.2,478) rotate(0.05)" font-size="3.0" text-anchor="middle" class="s">0.4</text>
<line x1="422.5" y1="473.15" x2="422.5" y2="474.85" stroke="#000" stroke-width="0.3"/>
<text transform="translate(422.5,478) rotate(0.05)" font-size="3.0" text-anchor="middle" class="s">0.6</text>
<line x1="441.9" y1="473.15" x2="441.9" y2="474.85" stroke="#000" stroke-width="0.3"/>
<text transform="translate(441.9,478) rotate(0.05)" font-size="3.0" text-anchor="middle" class="s">0.8</text>
<text transform="translate(405.7,483.95) rotate(0.05)" font-size="5.55" text-anchor="middle">Vulnerability Score</text>
<text transform="translate(405.3,336.8) rotate(0.05)" font-size="6.13" text-anchor="middle">Slope Morphology</text>
</g>
</svg>
</body></html>
